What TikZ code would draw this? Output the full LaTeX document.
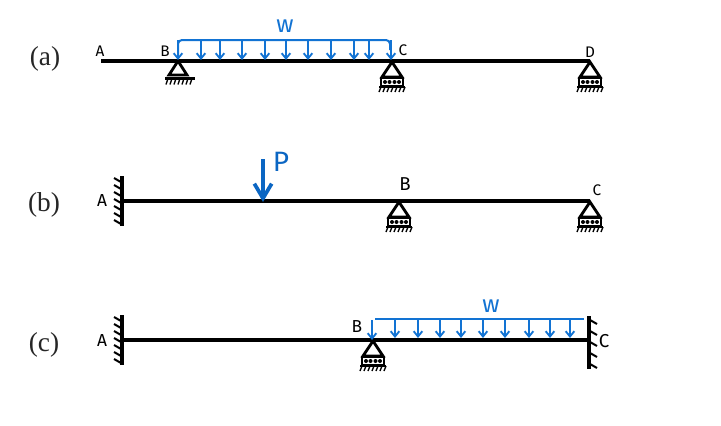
\documentclass[tikz,border=0pt]{standalone}
\usepackage{fontspec}
\setmainfont{Liberation Serif}
\newfontfamily\handfont{Fira Sans}
\usetikzlibrary{arrows.meta}
\definecolor{loadblue}{HTML}{1273D3}
\definecolor{pblue}{HTML}{0B66C3}
\tikzset{
 x=0.75pt,y=-0.75pt,
 beam/.style={line width=2.7pt,black},
 caselabel/.style={font=\fontsize{20.5}{22}\selectfont,inner sep=0pt,text=black!85},
 blacklabel/.style={font=\handfont\fontsize{11.5}{11}\selectfont,inner sep=0pt,black},
 bluelabel/.style={font=\handfont\fontsize{18}{17}\selectfont,inner sep=0pt,loadblue},
 loadline/.style={line width=1.5pt,loadblue},
 loadarrow/.style={line width=1.4pt,loadblue,-{Straight Barb[length=4pt,width=6.5pt,line width=1.4pt]}},
 wallline/.style={line width=3.4pt,black},
 hatchline/.style={line width=1.5pt,black},
 pin/.pic={
  \draw[line width=2.1pt,line join=miter,fill=white] (-9,14) -- (0,0) -- (9,14) -- cycle;
  \draw[line width=1.9pt] (-13,17.5) -- (17,17.5);
  \foreach \i in {-11,-7,...,15} \draw[line width=1pt] (\i+1,17.5) -- (\i-1,23.5);
 },
 roller/.pic={
  \draw[line width=2.1pt,line join=miter,fill=white] (-10,16) -- (0,1) -- (10,16) -- cycle;
  \draw[line width=1.4pt] (-11,17) rectangle (11,25);
  \foreach \i in {-7,-2.5,2.5,7} \fill (\i,21) circle (2);
  \draw[line width=1.9pt] (-13,26) -- (13,26);
  \foreach \i in {-12,-8,...,12} \draw[line width=1pt] (\i+1,26) -- (\i-1,31);
 },
 wallleft/.pic={
  \draw[wallline] (0,-25) -- (0,25);
  \foreach \i in {-21,-14,-7,0,7,14,21} \draw[hatchline] (-1,\i+2) -- (-8,\i-2);
 },
 wallright/.pic={
  \draw[wallline] (0,-24) -- (0,29);
  \foreach \i in {-20,-9,2,13,24} \draw[hatchline] (1,\i) -- (8,\i+4);
 },
}
\begin{document}
\begin{tikzpicture}
\useasboundingbox (0,0) rectangle (721,425);
\fill[white] (0,0) rectangle (721,425);

% --- case a
\coordinate (a1) at (101,61);
\coordinate (a2) at (178,61);
\coordinate (a3) at (392,61);
\coordinate (a4) at (590,61);
\draw[beam] (a1) -- (a4);
\pic at (a2) {pin};
\pic at (a3) {roller};
\pic at (a4) {roller};
\draw[loadline,rounded corners=3pt] (178,55) |- (390,40) -- (390,50);
\foreach \x in {178,201,220,242,265,286,308,331,354,369,391}
  \draw[loadarrow] (\x,40) -- (\x,60);
\node[caselabel] (la) at (45,59) {(a)};
\node[blacklabel] (aA) at (100,51) {A};
\node[blacklabel] (aB) at (165,51) {B};
\node[blacklabel] (aC) at (403,50) {C};
\node[blacklabel] (aD) at (590,52) {D};
\node[bluelabel] (aw) at (285,26) {w};

% --- case b
\coordinate (b1) at (122,201);
\coordinate (b2) at (399,201);
\coordinate (b3) at (590,201);
\coordinate (bp) at (263,159);
\coordinate (bq) at (263,202);
\draw[beam] (b1) -- (b3);
\pic at (b1) {wallleft};
\pic at (b2) {roller};
\pic at (b3) {roller};
\draw[line width=3.6pt,pblue,-{Straight Barb[length=11pt,width=13pt,line width=2.8pt]}] (bp) -- (bq);
\node[caselabel] (lb) at (44,205) {(b)};
\node[blacklabel,font=\handfont\fontsize{13}{12}\selectfont] (bA) at (102,201) {A};
\node[blacklabel,font=\handfont\fontsize{14}{13}\selectfont] (bB) at (405,184) {B};
\node[blacklabel] (bC) at (597,190) {C};
\node[bluelabel,text=pblue,font=\handfont\fontsize{21}{19}\selectfont] (bP) at (281,162) {P};

% --- case c
\coordinate (c1) at (122,340);
\coordinate (c2) at (373,340);
\coordinate (c3) at (589,340);
\draw[beam] (c1) -- (c3);
\pic at (c1) {wallleft};
\pic at (c2) {roller};
\pic at (c3) {wallright};
\draw[loadline] (375,319) -- (584,319);
\draw[loadarrow] (372,320) -- (372,340);
\foreach \x in {395,418,440,461,483,505,529,550,570}
  \draw[loadarrow] (\x,320) -- (\x,338);
\node[caselabel] (lc) at (44,345) {(c)};
\node[blacklabel,font=\handfont\fontsize{13}{12}\selectfont] (cA) at (102,341) {A};
\node[blacklabel,font=\handfont\fontsize{13}{12}\selectfont] (cB) at (357,327) {B};
\node[blacklabel,font=\handfont\fontsize{14}{13}\selectfont] (cC) at (604,341) {C};
\node[bluelabel] (cw) at (491,306) {w};
\end{tikzpicture}
\end{document}
